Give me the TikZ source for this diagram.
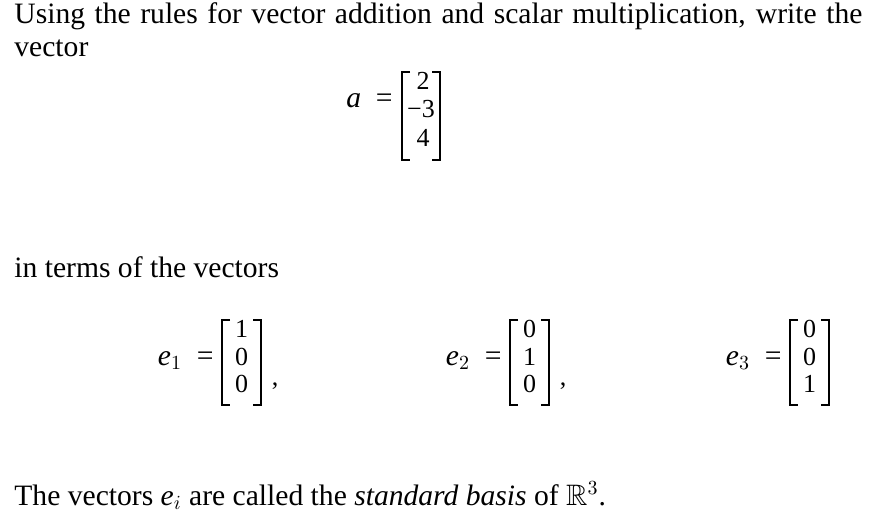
\documentclass[tikz,border=0pt]{standalone}
\usepackage{amsmath,amssymb}
\usepackage{fontspec}
\setmainfont{Liberation Serif}
\begin{document}
\begin{tikzpicture}[x=0.5pt,y=-0.5pt,
  txt/.style={inner sep=0pt,anchor=base west,font=\fontsize{14.8}{16.5}\selectfont},
  ent/.style={inner sep=0pt,anchor=base,font=\fontsize{13}{15}\selectfont},
  br/.style={line width=0.6pt}]
\useasboundingbox (0,0) rectangle (880,519);
\node[txt,text width=424pt,align=justify,anchor=north west] (p1) at (14,2) {\hyphenpenalty=10000 Using the rules for vector addition and scalar multiplication, write the\linebreak vector};
% a
\node[txt,anchor=base east] (a) at (393,108) {\textit{a}\,\,\,=};
\draw[br] (410,72)--(402,72)--(402,160)--(410,160);
\draw[br] (432,72)--(440,72)--(440,160)--(432,160);
\node[ent] (a1) at (423,90) {2};
\node[ent] (a2) at (421,118) {−3};
\node[ent] (a3) at (423,147) {4};
\node[txt] (p2) at (14,278) {in terms of the vectors};
% e vectors
\foreach \n/\ex/\bl/\a/\b/\c/\cm in {1/214/222/1/0/0/1, 2/502/510/0/1/0/1, 3/782/790/0/0/1/0}{
  \node[txt,anchor=base east] (e\n) at (\ex,365) {\textit{e}$_{\n}$\,\,\,=};
  \draw[br] (\bl+8,320)--(\bl,320)--(\bl,405)--(\bl+8,405);
  \draw[br] (\bl+31,320)--(\bl+39,320)--(\bl+39,405)--(\bl+31,405);
  \node[ent] (e\n a) at (\bl+19.5,337) {\a};
  \node[ent] (e\n b) at (\bl+19.5,365) {\b};
  \node[ent] (e\n c) at (\bl+19.5,393) {\c};
  \ifnum\cm=1 \node[ent] (e\n m) at (\bl+53,386) {,};\fi
}
\node[txt] (p3) at (14,505) {The vectors \textit{e}$_i$ are called the \textit{standard basis} of $\mathbb{R}^3$.};
\end{tikzpicture}
\end{document}
